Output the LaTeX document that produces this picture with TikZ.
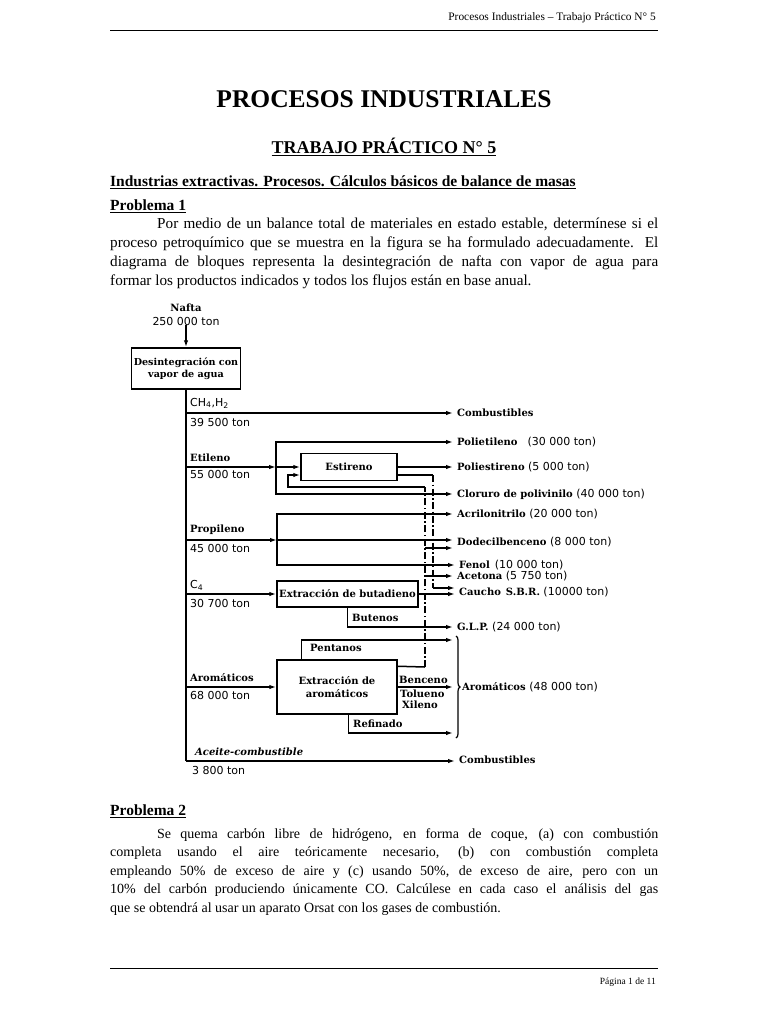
\documentclass[tikz,border=0pt]{standalone}
\usepackage{fontspec}
\setmainfont{Liberation Serif}
\setsansfont{DejaVu Sans}
\newfontfamily\blockfont{DejaVu Serif}
\usetikzlibrary{arrows.meta,positioning,calc,decorations.pathreplacing}

\newcommand{\qt}[1]{\textsf{\mdseries\upshape\fontsize{11}{12}\selectfont #1}}

\begin{document}
\begin{tikzpicture}[x=1pt, y=-1pt,
    flow/.style={line width=1.5pt},
    arr/.style={flow, -{Latex[length=7pt,width=4.5pt]}},
    recy/.style={flow, dash pattern=on 7pt off 2.5pt on 1.5pt off 2.5pt},
    unit/.style={draw, line width=1.5pt, inner sep=0.5pt, align=center,
        font=\blockfont\bfseries\fontsize{10}{12.5}\selectfont},
    lbl/.style={anchor=west, inner sep=0pt, font=\blockfont\bfseries\fontsize{10}{11}\selectfont},
    qty/.style={anchor=west, inner sep=0pt, font=\sffamily\fontsize{11}{12}\selectfont},
    prod/.style={anchor=west, inner xsep=4pt, inner ysep=0pt,
        font=\blockfont\bfseries\fontsize{10}{11}\selectfont},
    body/.style={anchor=north west, inner sep=0pt, text width=548pt, align=justify,
        font=\fontsize{14}{18.5}\selectfont},
    head/.style={anchor=west, inner sep=0pt, font=\bfseries\fontsize{15.5}{18}\selectfont}
]
\fill[white] (0,0) rectangle (768,1024);
\useasboundingbox (0,0) rectangle (768,1024);

% page header and titles
\node[anchor=east, inner sep=0pt, font=\fontsize{11.4}{13}\selectfont] (hdr) at (656,18) {Procesos Industriales – Trabajo Práctico N° 5};
\coordinate (hl) at (110,30);
\coordinate (hr) at (658,30);
\draw[line width=0.8pt] (hl) -- (hr);
\node[inner sep=0pt, font=\bfseries\fontsize{25.5}{28}\selectfont] (title) at (384,99) {PROCESOS INDUSTRIALES};
\node[inner sep=0pt, font=\bfseries\fontsize{18}{20}\selectfont] (tp) at (384,147) {\underline{TRABAJO PRÁCTICO N° 5}};
\node[head] (ind) at (110,182) {\underline{Industrias extractivas. Procesos. Cálculos básicos de balance de masas}};
\node[head] (prob1) at (110,206) {\underline{Problema 1}};
\node[body, font=\fontsize{15.2}{19}\selectfont] (txt1) at (110,218) {\noindent\hspace*{47pt}Por medio de un balance total de materiales en estado estable, determínese si el\linebreak
proceso petroquímico que se muestra en la figura se ha formulado adecuadamente. El\linebreak
diagrama de bloques representa la desintegración de nafta con vapor de agua para\linebreak
formar los productos indicados y todos los flujos están en base anual.};

% feed and cracking unit
\node[lbl, anchor=center] (nafta) at (186,308) {Nafta};
\node[qty, anchor=center] (naftaton) at (186,321) {250 000 ton};
\node[unit, minimum width=109pt, minimum height=41pt, font=\blockfont\bfseries\fontsize{9.6}{12.5}\selectfont] (desint) at (186,368.5) {Desintegración con\\vapor de agua};
\draw[arr] (naftaton) -- (desint);

% main header line
\coordinate (sp-ch4) at (186,413);
\coordinate (sp-eti) at (186,467);
\coordinate (sp-pro) at (186,540);
\coordinate (sp-c4) at (186,594);
\coordinate (sp-aro) at (186,687);
\coordinate (sp-oil) at (186,761);
\draw[flow] (desint.south) -- (sp-oil);

% stream labels
\node[qty] (ch4lbl) at (190,403) {CH\textsubscript{4},H\textsubscript{2}};
\node[qty] (ch4ton) at (190,422) {39 500 ton};
\node[lbl] (etilbl) at (190,458) {Etileno};
\node[qty] (etiton) at (190,474) {55 000 ton};
\node[lbl] (prolbl) at (190,530) {Propileno};
\node[qty] (proton) at (190,548) {45 000 ton};
\node[qty] (c4lbl) at (190,585) {C\textsubscript{4}};
\node[qty] (c4ton) at (190,603) {30 700 ton};
\node[lbl] (arolbl) at (190,678) {Aromáticos};
\node[qty] (aroton) at (190,695) {68 000 ton};
\node[lbl, font=\blockfont\bfseries\itshape\fontsize{10}{11}\selectfont] (oillbl) at (195,752) {Aceite-combustible};
\node[qty] (oilton) at (192,770) {3 800 ton};

% products
\node[prod] (comb1) at (453,413) {Combustibles};
\node[prod] (polieti) at (453,442) {Polietileno\quad\qt{(30 000 ton)}};
\node[prod] (poliest) at (453,467) {Poliestireno \qt{(5 000 ton)}};
\node[prod] (pvc) at (453,494) {Cloruro de polivinilo \qt{(40 000 ton)}};
\node[prod] (acril) at (453,514) {Acrilonitrilo \qt{(20 000 ton)}};
\node[prod] (dodec) at (453,542) {Dodecilbenceno \qt{(8 000 ton)}};
\node[prod] (fenol) at (455,565) {Fenol\enspace\qt{(10 000 ton)}};
\node[prod] (aceto) at (453,576) {Acetona \qt{(5 750 ton)}};
\node[prod] (caucho) at (455,592) {Caucho\enspace S.B.R. \qt{(10000 ton)}};
\node[prod] (glp) at (453,627) {G.L.P. \qt{(24 000 ton)}};
\node[prod] (aromout) at (458,687) {Aromáticos \qt{(48 000 ton)}};
\node[prod] (comb2) at (455,760) {Combustibles};

\draw[arr] (sp-ch4) -- (sp-ch4 -| comb1.west);
\draw[arr] (sp-oil) -- (sp-oil -| comb2.west);

% etileno
\coordinate (eti-br) at (276,467);
\node[unit, minimum width=96pt, minimum height=27pt] (estir) at (349,467) {Estireno};
\draw[arr] (sp-eti) -- (eti-br);
\draw[arr] (eti-br) |- (polieti.west);
\draw[arr] (eti-br) |- (pvc.west);
\draw[arr] (eti-br) -- (estir.west);
\draw[arr] (estir.east) -- (estir.east -| poliest.west);

% estireno a caucho
\coordinate (sty-a) at ($(estir.east)+(0,8)$);
\coordinate (sty-b) at (433,475);
\coordinate (sty-c) at (433,588);
\draw[flow] (sty-a) -- (sty-b);
\draw[recy] (sty-b) -- (sty-c);
\draw[arr] (sty-c) -- (sty-c -| caucho.west);

% propileno
\coordinate (pro-br) at (277,540);
\draw[arr] (sp-pro) -- (pro-br);
\draw[arr] (pro-br) |- (acril.west);
\draw[arr] (pro-br) -- (pro-br -| dodec.west);
\draw[arr] (pro-br) |- (fenol.west);

% C4
\node[unit, minimum width=141pt, minimum height=26pt, inner sep=0pt] (butad) at (347.5,594) {Extracción de butadieno};
\draw[arr] (sp-c4) -- (butad.west);
\draw[arr] (butad.east) -- (butad.east -| caucho.west);
\draw[arr] (butad.south) |- (glp.west);
\node[lbl] (butlbl) at (352,618) {Butenos};

% aromaticos
\node[unit, minimum width=120pt, minimum height=54pt] (extaro) at (337,687) {Extracción de\\aromáticos};
\draw[arr] (sp-aro) -- (extaro.west);
\coordinate (pen-a) at ($(extaro.north west)+(25,0)$);
\coordinate (pen-end) at (453,640);
\draw[arr] (pen-a) |- (pen-end);
\node[lbl] (penlbl) at (310,648) {Pentanos};
\coordinate (btx-end) at (453,687);
\draw[arr] (extaro.east) -- (btx-end);
\node[lbl] (benlbl) at (399,680) {Benceno};
\node[lbl] (tollbl) at (400,694) {Tolueno};
\node[lbl] (xillbl) at (402,705) {Xileno};
\coordinate (ref-a) at ($(extaro.south west)+(72,0)$);
\coordinate (ref-end) at (453,733);
\draw[arr] (ref-a) |- (ref-end);
\node[lbl] (reflbl) at (353,724) {Refinado};
\coordinate (br-top) at (456,636);
\coordinate (br-bot) at (456,738);
\draw[line width=1.2pt, decorate, decoration={brace, amplitude=4pt}] (br-top) -- (br-bot);

% benceno de vuelta
\coordinate (bz-a) at ($(extaro.north east)+(0,7)$);
\coordinate (bz-b) at (425,667);
\coordinate (bz-c) at (425,487);
\coordinate (bz-d) at (288,487);
\coordinate (bz-e) at (288,475);
\coordinate (bz-f) at (425,548);
\coordinate (bz-g) at (425,576);
\draw[flow] (bz-a) -- (bz-b);
\draw[recy] (bz-b) -- (bz-c);
\draw[arr] (bz-c) -- (bz-d) -- (bz-e) -- (bz-e -| estir.west);
\draw[arr] (bz-f) -- (bz-f -| dodec.west);
\draw[arr] (bz-g) -- (bz-g -| aceto.west);

% problema 2 and footer
\node[head] (prob2) at (110,811) {\underline{Problema 2}};
\node[body] (txt2) at (110,828) {\noindent\hspace*{47pt}Se quema carbón libre de hidrógeno, en forma de coque, (a) con combustión\linebreak
completa usando el aire teóricamente necesario, (b) con combustión completa\linebreak
empleando 50\% de exceso de aire y (c) usando 50\%, de exceso de aire, pero con un\linebreak
10\% del carbón produciendo únicamente CO. Calcúlese en cada caso el análisis del gas\linebreak
que se obtendrá al usar un aparato Orsat con los gases de combustión.};
\coordinate (fl) at (110,968);
\coordinate (fr) at (658,968);
\draw[line width=0.8pt] (fl) -- (fr);
\node[anchor=east, inner sep=0pt, font=\fontsize{9.5}{12}\selectfont] (pag) at (656,982) {Página 1 de 11};
\end{tikzpicture}
\end{document}
